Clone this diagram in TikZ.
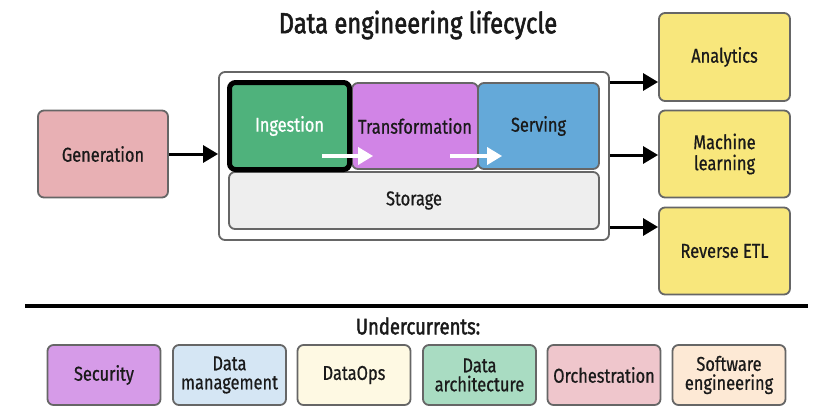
\documentclass[tikz,border=0pt]{standalone}
\usepackage{fontspec}
\setmainfont{Fira Sans}[FakeStretch=0.82,FakeBold=0.7]
\newfontfamily\titlefont{Fira Sans}[FakeStretch=0.82,FakeBold=1.8]
\usetikzlibrary{arrows.meta,calc}
\definecolor{edgegray}{HTML}{666666}
\definecolor{genpink}{HTML}{E8B0B4}
\definecolor{inggreen}{HTML}{4FB27C}
\definecolor{trpurple}{HTML}{D184E6}
\definecolor{svblue}{HTML}{64A9D9}
\definecolor{stgray}{HTML}{EEEEEE}
\definecolor{outyellow}{HTML}{F8E77C}
\definecolor{secpurple}{HTML}{D69BE8}
\definecolor{dmblue}{HTML}{D5E6F4}
\definecolor{docream}{HTML}{FEF9E3}
\definecolor{damint}{HTML}{A9DCC2}
\definecolor{orpink}{HTML}{EFC6CC}
\definecolor{sepeach}{HTML}{FDE9D5}
\definecolor{txt}{HTML}{1A1A1A}
\tikzset{
  boxnode/.style={draw=edgegray, line width=1.8pt, rounded corners=6pt, align=center,
    font=\fontsize{20}{21}\selectfont, text=txt, inner sep=0pt},
  flowarrow/.style={line width=3pt, -{Triangle[length=15pt,width=17pt]}, draw=black},
  whitearrow/.style={line width=3.5pt, -{Triangle[length=15pt,width=17pt]}, draw=white},
}
\begin{document}
\begin{tikzpicture}[x=1pt,y=-1pt]
\useasboundingbox (0,0) rectangle (834,418);
\fill[white] (0,0) rectangle (834,418);

\node[font=\titlefont\fontsize{29}{31}\selectfont, text=txt] (title) at (418,25) {Data engineering lifecycle};

\node[boxnode, fill=genpink, minimum width=130pt, minimum height=87pt] (gen) at (103,154) {Generation};

\node[boxnode, fill=white, minimum width=390pt, minimum height=168pt] (cont) at (414,156) {};

\node[boxnode, fill=trpurple, minimum width=126pt, minimum height=86pt] (trans) at (415,126) {Transformation};
\node[boxnode, fill=svblue, minimum width=121pt, minimum height=86pt] (serv) at (538.5,126) {Serving};
\node[boxnode, fill=stgray, minimum width=370pt, minimum height=57pt] (stor) at (414,200.5) {Storage};
\node[boxnode, draw=black, line width=5pt, fill=inggreen, text=white, minimum width=120pt, minimum height=87pt] (ing) at (289.5,126) {Ingestion};

\coordinate (w1s) at (322,156);
\coordinate (w2s) at (450,156);
\draw[whitearrow] (w1s) -- ($(w1s -| trans.west)+(22,0)$);
\draw[whitearrow] (w2s) -- ($(w2s -| serv.west)+(25,0)$);

\node[boxnode, fill=outyellow, minimum width=131pt, minimum height=88pt] (ana) at (724.5,57) {Analytics};
\node[boxnode, fill=outyellow, minimum width=131pt, minimum height=87pt] (ml) at (724.5,154) {Machine\\learning};
\node[boxnode, fill=outyellow, minimum width=131pt, minimum height=87pt] (retl) at (724.5,251) {Reverse ETL};

\draw[flowarrow] (gen.east) -- (gen.east -| cont.west);
\coordinate (a1) at (0,82);
\coordinate (a2) at (0,155);
\coordinate (a3) at (0,227);
\draw[flowarrow] (a1 -| cont.east) -- (a1 -| ana.west);
\draw[flowarrow] (a2 -| cont.east) -- (a2 -| ml.west);
\draw[flowarrow] (a3 -| cont.east) -- (a3 -| retl.west);

\coordinate (hl) at (25,306);
\coordinate (hr) at (808,306);
\draw[line width=4.5pt, draw=black] (hl) -- (hr);

\node[font=\titlefont\fontsize{22.5}{24}\selectfont, text=txt] (under) at (418,326) {Undercurrents:};

\tikzset{ucbox/.style={boxnode, minimum width=113pt, minimum height=60pt, font=\fontsize{20}{19}\selectfont}}
\node[ucbox, fill=secpurple] (sec) at (104,375) {Security};
\node[ucbox, fill=dmblue] (dm) at (229.5,375) {Data\\management};
\node[ucbox, fill=docream] (dops) at (354,375) {DataOps};
\node[ucbox, fill=damint] (darch) at (479.5,375) {Data\\architecture};
\node[ucbox, fill=orpink] (orch) at (604,375) {Orchestration};
\node[ucbox, fill=sepeach] (swe) at (729,375) {Software\\engineering};
\end{tikzpicture}
\end{document}
